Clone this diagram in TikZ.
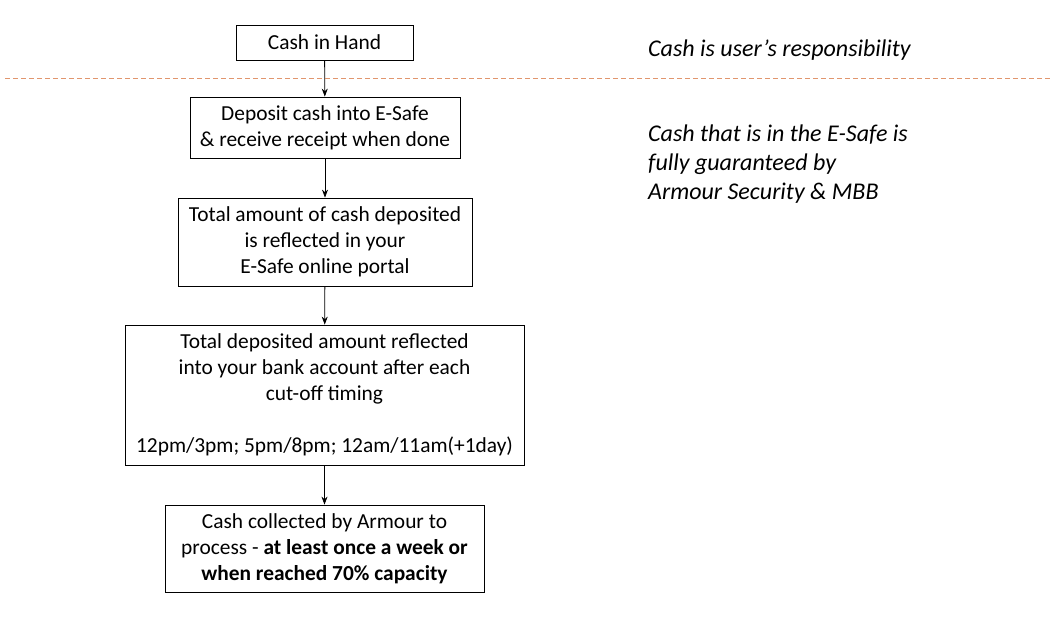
\documentclass[tikz,border=0pt]{standalone}
\usepackage{fontspec}
\setmainfont{Carlito}
\usetikzlibrary{arrows.meta}
\definecolor{dashc}{RGB}{225,150,110}
\begin{document}
\begin{tikzpicture}[x=1pt,y=-1pt,
  box/.style={draw,line width=0.8pt,align=center,font=\fontsize{21.4}{26}\selectfont,inner sep=0pt},
  note/.style={align=left,anchor=west,font=\fontsize{24}{29}\selectfont\itshape,inner sep=0pt},
  arr/.style={-{Stealth[length=8pt,width=6pt]},line width=0.8pt}]
\useasboundingbox (0,0) rectangle (1057,621);
\node[box,minimum width=177pt,minimum height=35pt] (a) at (324.5,42.5) {Cash in Hand};
\node[box,minimum width=270pt,minimum height=61pt] (b) at (325,127.5) {Deposit cash into E-Safe\\\& receive receipt when done};
\node[box,minimum width=294pt,minimum height=88pt] (c) at (325,242) {Total amount of cash deposited\\is reflected in your\\E-Safe online portal};
\node[box,minimum width=399pt,minimum height=140pt] (d) at (324.5,395) {Total deposited amount reflected\\into your bank account after each\\cut-off timing\\[26pt]12pm/3pm; 5pm/8pm; 12am/11am(+1day)};
\node[box,minimum width=319pt,minimum height=87pt] (e) at (324.5,548.5) {Cash collected by Armour to\\process - \textbf{at least once a week or}\\\textbf{when reached 70\% capacity}};
\draw[arr] (a) -- (b);
\draw[arr] (b) -- (c);
\draw[arr] (c) -- (d);
\draw[arr] (d) -- (e);
\coordinate (l1) at (5,78);
\coordinate (l2) at (1052,78);
\draw[dashc,dashed,line width=0.8pt,dash pattern=on 5pt off 3pt] (l1) -- (l2);
\node[note] (n1) at (648,50) {Cash is user’s responsibility};
\node[note] (n2) at (648,164) {Cash that is in the E-Safe is\\fully guaranteed by\\Armour Security \& MBB};
\end{tikzpicture}
\end{document}
